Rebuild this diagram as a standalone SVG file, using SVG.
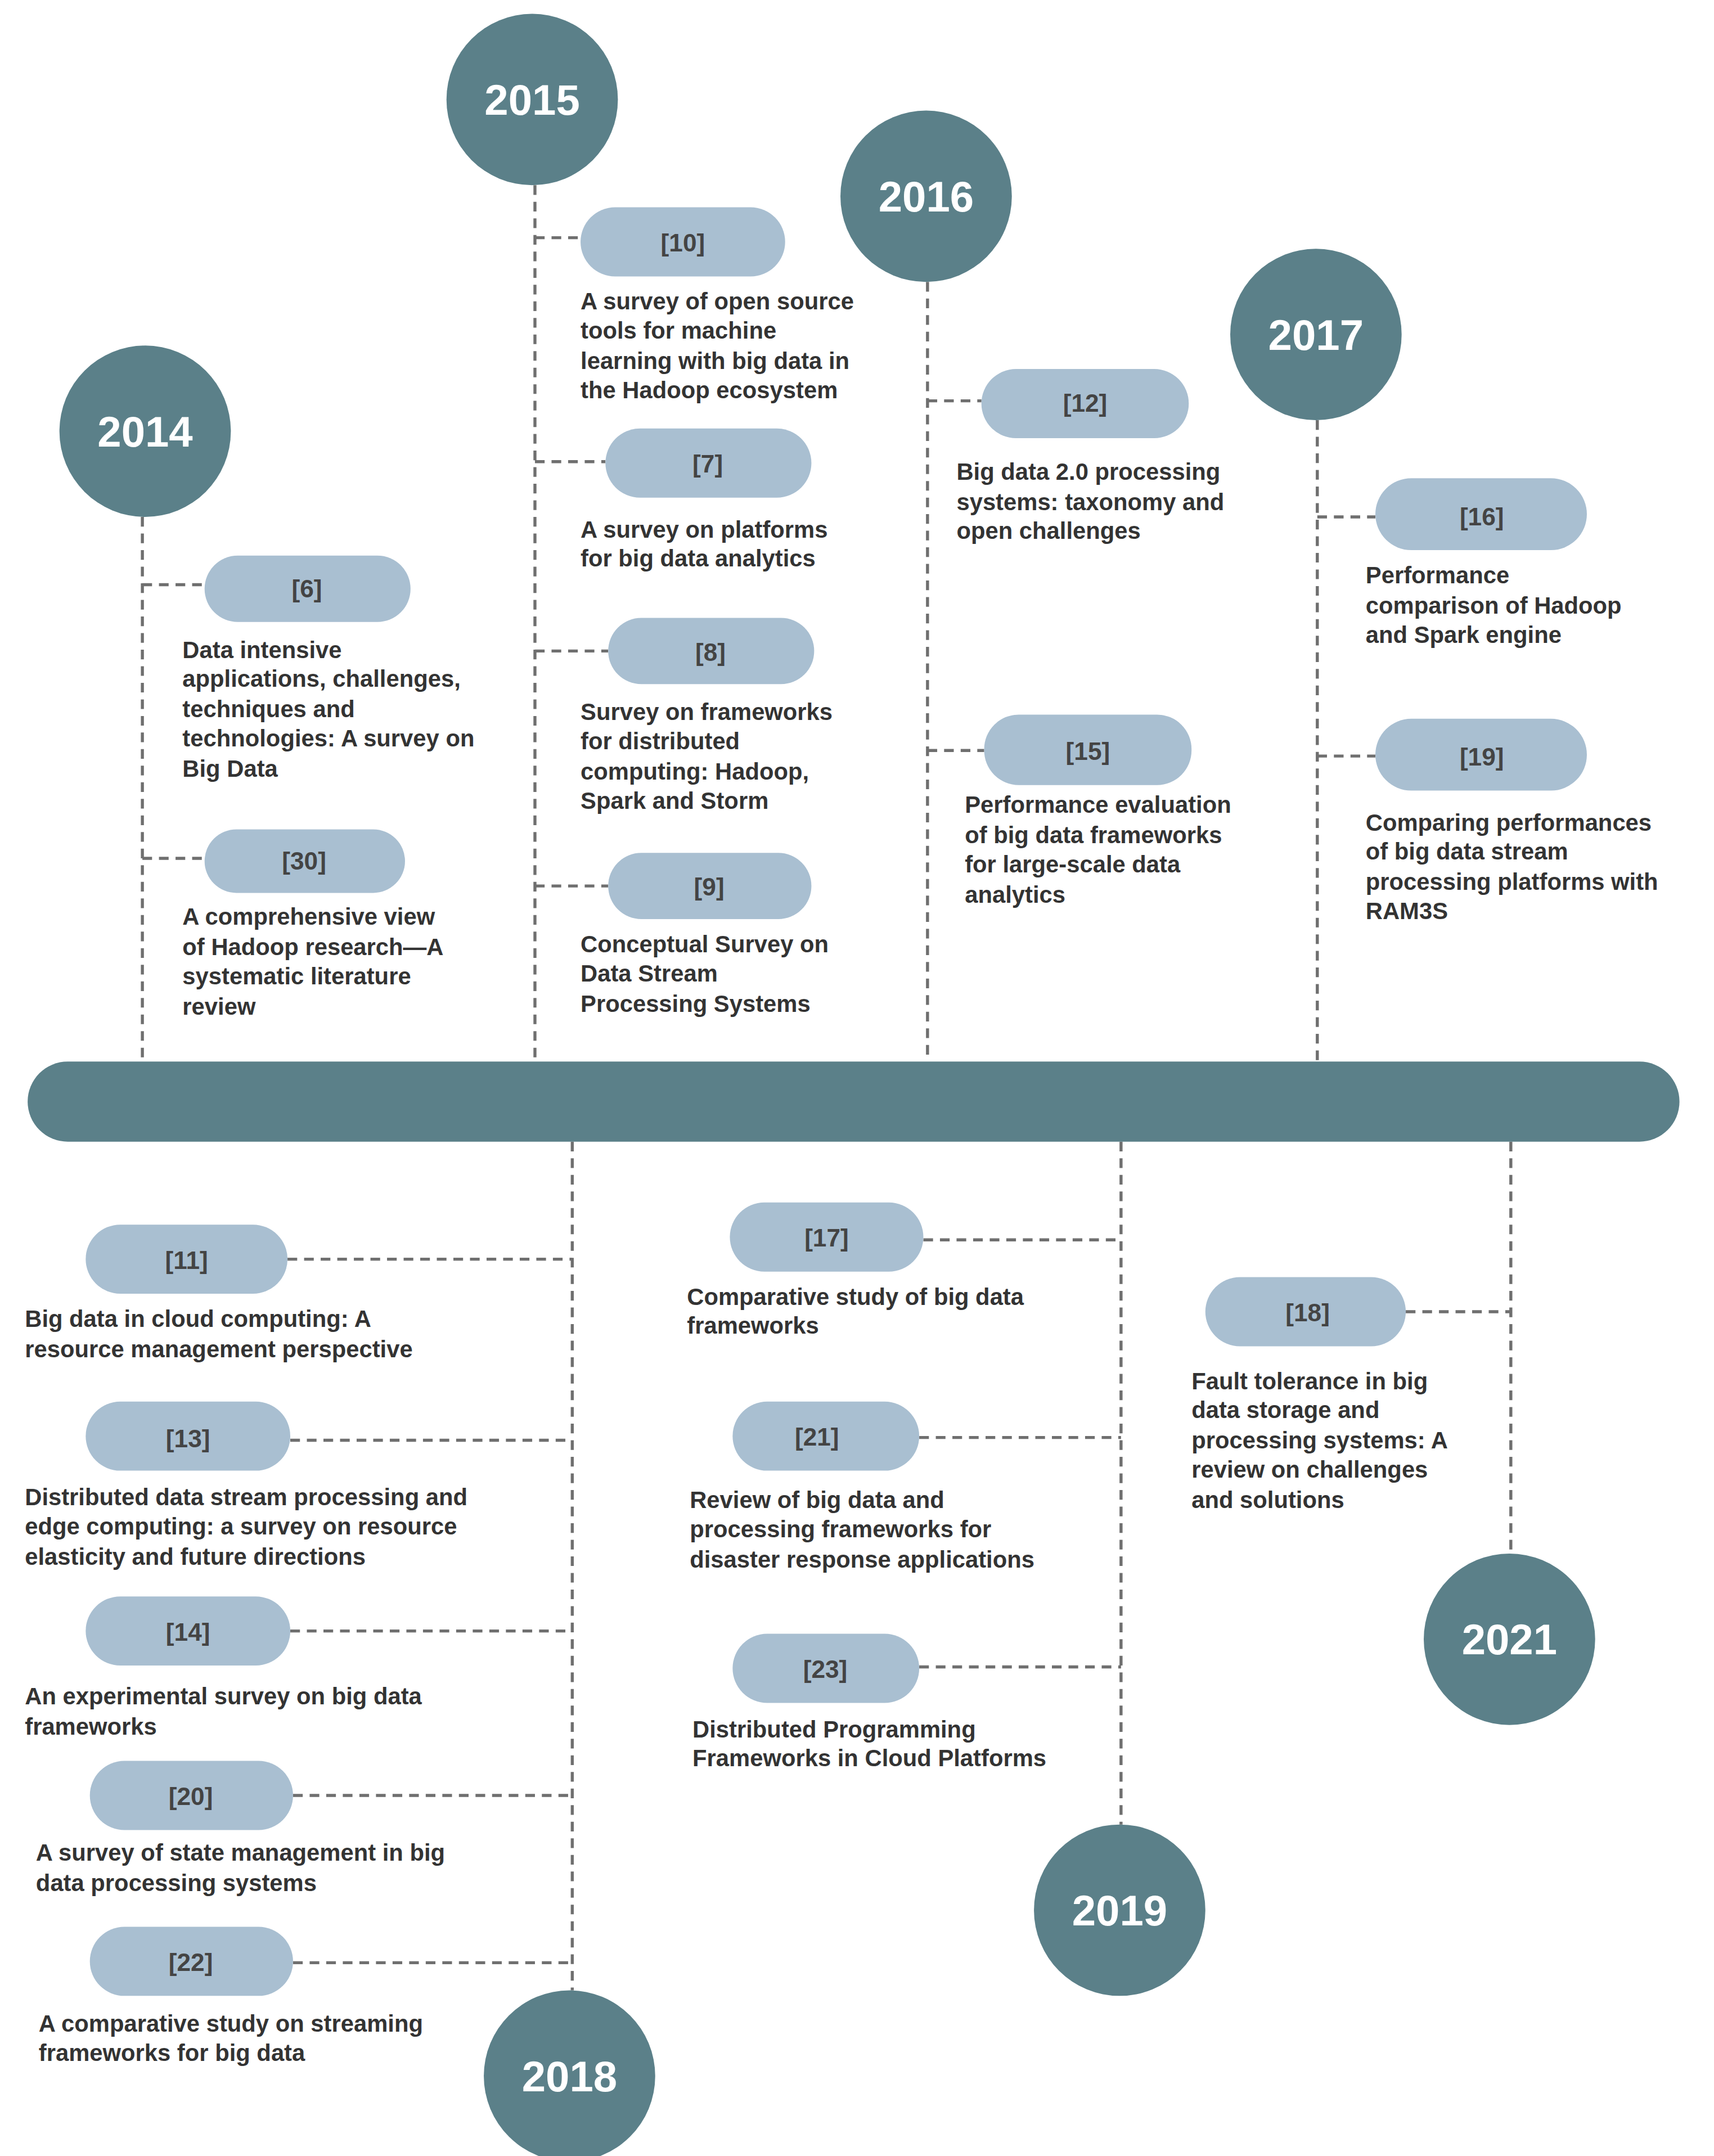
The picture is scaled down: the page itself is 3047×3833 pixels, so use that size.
<svg xmlns="http://www.w3.org/2000/svg" width="3047" height="3833" viewBox="0 0 3047 3833">
<style>
.yr{fill:#5b8089}
.yt{font-family:"Liberation Sans",Arial,sans-serif;font-weight:bold;font-size:31px;fill:#fff;text-anchor:middle}
.pill{fill:#a9bfd1}
.pt{font-family:"Liberation Sans",Arial,sans-serif;font-weight:bold;font-size:18px;fill:#444;text-anchor:middle}
.t{font-family:"Liberation Sans",Arial,sans-serif;font-weight:bold;font-size:17px;fill:#333}
.d{stroke:#6f6f6f;stroke-width:2.2;stroke-dasharray:7 5;fill:none}
</style>
<rect width="3047" height="3833" fill="#fff"/>
<g transform="scale(2.4573)">
<g id="connectors">
<path class="d" d="M103 374V768M387 134V768M671 204V768M953 304V768M414 826V1440M811 826V1320M1093 826V1124"/>
<path class="d" d="M103 423H148M103 621H148M387 172H420M387 334H438M387 471H440M387 641H440M671 290H710M671 543H712M953 374H995M953 547H995"/>
<path class="d" d="M208 911H414M210 1042H414M210 1180H414M212 1299H414M212 1420H414M668 897H811M665 1040H811M665 1206H811M1017 949H1093"/>
</g>
<g id="bar"><rect x="20" y="768" width="1195" height="58" rx="29" fill="#5b8089"/></g>
<g id="y2014"><circle class="yr" cx="105" cy="312" r="62"/><text class="yt" x="105" y="323">2014</text></g>
<g id="y2015"><circle class="yr" cx="385" cy="72" r="62"/><text class="yt" x="385" y="83">2015</text></g>
<g id="y2016"><circle class="yr" cx="670" cy="142" r="62"/><text class="yt" x="670" y="153">2016</text></g>
<g id="y2017"><circle class="yr" cx="952" cy="242" r="62"/><text class="yt" x="952" y="253">2017</text></g>
<g id="y2018"><circle class="yr" cx="412" cy="1502" r="62"/><text class="yt" x="412" y="1513">2018</text></g>
<g id="y2019"><circle class="yr" cx="810" cy="1382" r="62"/><text class="yt" x="810" y="1393">2019</text></g>
<g id="y2021"><circle class="yr" cx="1092" cy="1186" r="62"/><text class="yt" x="1092" y="1197">2021</text></g>

<g id="n6"><rect class="pill" x="148" y="402" width="149" height="48" rx="24"/><text class="pt" x="222" y="432">[6]</text>
<text class="t" x="132" y="476">Data intensive</text><text class="t" x="132" y="497">applications, challenges,</text><text class="t" x="132" y="519">techniques and</text><text class="t" x="132" y="540">technologies: A survey on</text><text class="t" x="132" y="562">Big Data</text></g>
<g id="n30"><rect class="pill" x="148" y="600" width="145" height="46" rx="23"/><text class="pt" x="220" y="629">[30]</text>
<text class="t" x="132" y="669">A comprehensive view</text><text class="t" x="132" y="691">of Hadoop research—A</text><text class="t" x="132" y="712">systematic literature</text><text class="t" x="132" y="734">review</text></g>
<g id="n10"><rect class="pill" x="420" y="150" width="148" height="50" rx="25"/><text class="pt" x="494" y="182">[10]</text>
<text class="t" x="420" y="224">A survey of open source</text><text class="t" x="420" y="245">tools for machine</text><text class="t" x="420" y="267">learning with big data in</text><text class="t" x="420" y="288">the Hadoop ecosystem</text></g>
<g id="n7"><rect class="pill" x="438" y="310" width="149" height="50" rx="25"/><text class="pt" x="512" y="342">[7]</text>
<text class="t" x="420" y="389">A survey on platforms</text><text class="t" x="420" y="410">for big data analytics</text></g>
<g id="n8"><rect class="pill" x="440" y="447" width="149" height="48" rx="24"/><text class="pt" x="514" y="478">[8]</text>
<text class="t" x="420" y="521">Survey on frameworks</text><text class="t" x="420" y="542">for distributed</text><text class="t" x="420" y="564">computing: Hadoop,</text><text class="t" x="420" y="585">Spark and Storm</text></g>
<g id="n9"><rect class="pill" x="440" y="617" width="147" height="48" rx="24"/><text class="pt" x="513" y="648">[9]</text>
<text class="t" x="420" y="689">Conceptual Survey on</text><text class="t" x="420" y="710">Data Stream</text><text class="t" x="420" y="732">Processing Systems</text></g>
<g id="n12"><rect class="pill" x="710" y="267" width="150" height="50" rx="25"/><text class="pt" x="785" y="298">[12]</text>
<text class="t" x="692" y="347">Big data 2.0 processing</text><text class="t" x="692" y="369">systems: taxonomy and</text><text class="t" x="692" y="390">open challenges</text></g>
<g id="n15"><rect class="pill" x="712" y="517" width="150" height="51" rx="25"/><text class="pt" x="787" y="550">[15]</text>
<text class="t" x="698" y="588">Performance evaluation</text><text class="t" x="698" y="610">of big data frameworks</text><text class="t" x="698" y="631">for large-scale data</text><text class="t" x="698" y="653">analytics</text></g>
<g id="n16"><rect class="pill" x="995" y="346" width="153" height="52" rx="26"/><text class="pt" x="1072" y="380">[16]</text>
<text class="t" x="988" y="422">Performance</text><text class="t" x="988" y="444">comparison of Hadoop</text><text class="t" x="988" y="465">and Spark engine</text></g>
<g id="n19"><rect class="pill" x="995" y="520" width="153" height="52" rx="26"/><text class="pt" x="1072" y="554">[19]</text>
<text class="t" x="988" y="601">Comparing performances</text><text class="t" x="988" y="622">of big data stream</text><text class="t" x="988" y="644">processing platforms with</text><text class="t" x="988" y="665">RAM3S</text></g>
<g id="n11"><rect class="pill" x="62" y="886" width="146" height="50" rx="25"/><text class="pt" x="135" y="918">[11]</text>
<text class="t" x="18" y="960">Big data in cloud computing: A</text><text class="t" x="18" y="982">resource management perspective</text></g>
<g id="n13"><rect class="pill" x="62" y="1014" width="148" height="50" rx="25"/><text class="pt" x="136" y="1047">[13]</text>
<text class="t" x="18" y="1089">Distributed data stream processing and</text><text class="t" x="18" y="1110">edge computing: a survey on resource</text><text class="t" x="18" y="1132">elasticity and future directions</text></g>
<g id="n14"><rect class="pill" x="62" y="1155" width="148" height="50" rx="25"/><text class="pt" x="136" y="1187">[14]</text>
<text class="t" x="18" y="1233">An experimental survey on big data</text><text class="t" x="18" y="1255">frameworks</text></g>
<g id="n20"><rect class="pill" x="65" y="1274" width="147" height="50" rx="25"/><text class="pt" x="138" y="1306">[20]</text>
<text class="t" x="26" y="1346">A survey of state management in big</text><text class="t" x="26" y="1368">data processing systems</text></g>
<g id="n22"><rect class="pill" x="65" y="1394" width="147" height="50" rx="25"/><text class="pt" x="138" y="1426">[22]</text>
<text class="t" x="28" y="1470">A comparative study on streaming</text><text class="t" x="28" y="1491">frameworks for big data</text></g>
<g id="n17"><rect class="pill" x="528" y="870" width="140" height="50" rx="25"/><text class="pt" x="598" y="902">[17]</text>
<text class="t" x="497" y="944">Comparative study of big data</text><text class="t" x="497" y="965">frameworks</text></g>
<g id="n21"><rect class="pill" x="530" y="1014" width="135" height="50" rx="25"/><text class="pt" x="591" y="1046">[21]</text>
<text class="t" x="499" y="1091">Review of big data and</text><text class="t" x="499" y="1112">processing frameworks for</text><text class="t" x="499" y="1134">disaster response applications</text></g>
<g id="n23"><rect class="pill" x="530" y="1182" width="135" height="50" rx="25"/><text class="pt" x="597" y="1214">[23]</text>
<text class="t" x="501" y="1257">Distributed Programming</text><text class="t" x="501" y="1278">Frameworks in Cloud Platforms</text></g>
<g id="n18"><rect class="pill" x="872" y="924" width="145" height="50" rx="25"/><text class="pt" x="946" y="956">[18]</text>
<text class="t" x="862" y="1005">Fault tolerance in big</text><text class="t" x="862" y="1026">data storage and</text><text class="t" x="862" y="1048">processing systems: A</text><text class="t" x="862" y="1069">review on challenges</text><text class="t" x="862" y="1091">and solutions</text></g>
</g>
</svg>
